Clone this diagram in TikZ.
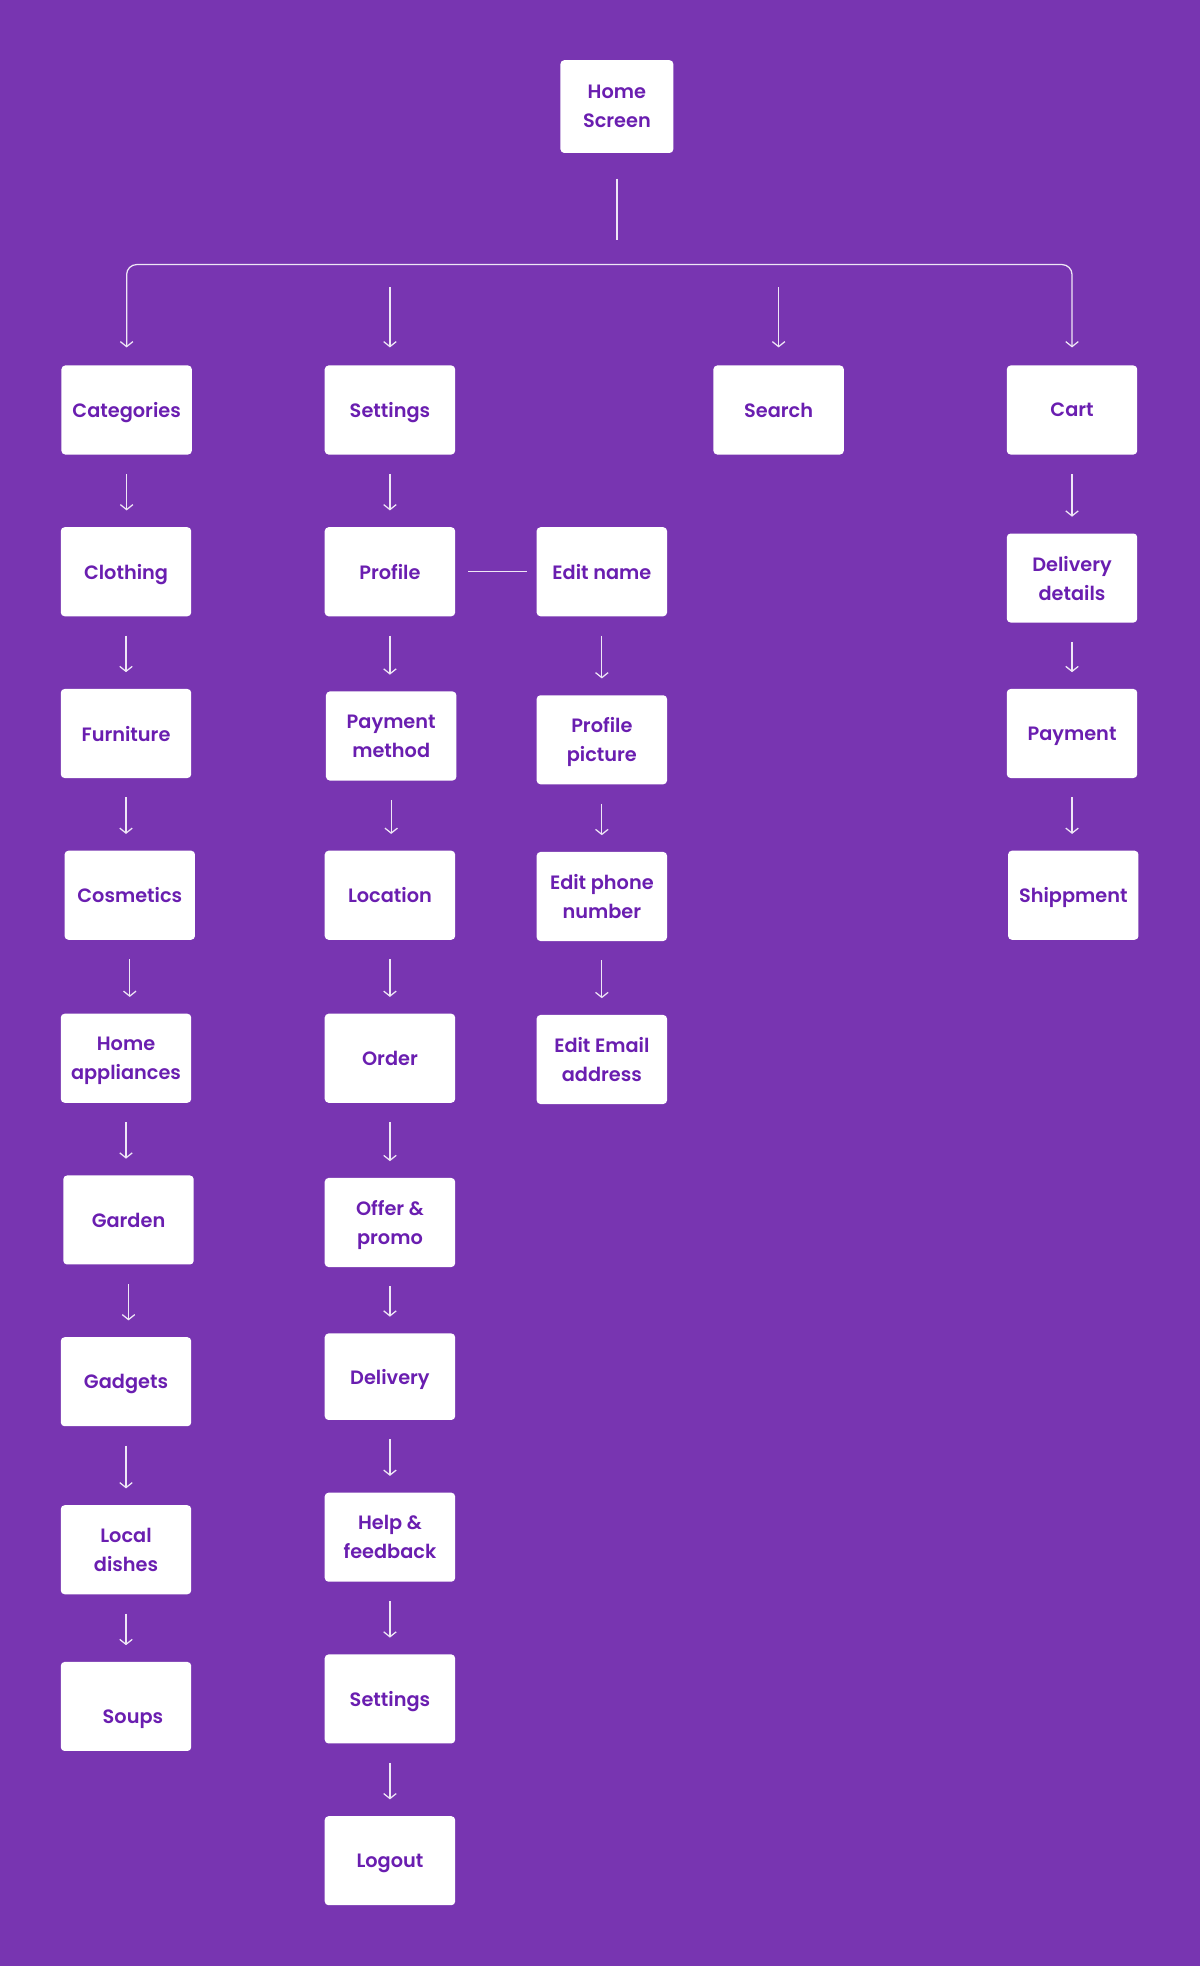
\documentclass[tikz,border=0pt]{standalone}
\usepackage{fontspec}
\setmainfont{Poppins}[BoldFont={* SemiBold}]
\usetikzlibrary{arrows.meta}
\definecolor{bgpurple}{HTML}{7835B1}
\definecolor{txtpurple}{HTML}{6A1EB0}
\tikzset{
  scr/.style={fill=white,rounded corners=1.5pt,minimum width=52pt,minimum height=35.5pt,inner sep=1pt,align=center,text depth=0pt,text=txtpurple,font=\fontsize{7.7}{11.5}\selectfont\bfseries},
  flow/.style={draw=white!88!bgpurple,line width=0.5pt,-{Straight Barb[length=2pt,width=5pt]},shorten <=7.5pt,shorten >=6.5pt},
}

\begin{document}
\begin{tikzpicture}[x=0.5pt,y=-0.5pt]

\fill[bgpurple] (0,0) rectangle (957,1568); %背景

\node[scr,minimum width=45pt,minimum height=37pt] (home) at (492,85) {Home\\Screen};

\node[scr] (cat) at (101,327) {Categories};
\node[scr] (set) at (311,327) {Settings};
\node[scr] (srch) at (621,327) {Search};
\node[scr] (cart) at (855,327) {Cart};

%Categories
\node[scr] (clo) at (100.5,456) {Clothing};
\node[scr] (fur) at (100.5,585) {Furniture};
\node[scr] (cos) at (103.5,714) {Cosmetics};
\node[scr] (appl) at (100.5,844) {Home\\appliances};
\node[scr] (gard) at (102.5,973) {Garden};
\node[scr] (gadg) at (100.5,1102) {Gadgets};
\node[scr] (local) at (100.5,1236) {Local\\dishes};
\node[scr,label={[xshift=2.75pt,yshift=-5pt,text=txtpurple,font=\fontsize{7.7}{11.5}\selectfont\bfseries]center:Soups}] (soup) at (100.5,1361) {};

%Settings
\node[scr] (prof) at (311,456) {Profile};
\node[scr] (pay) at (312,587) {Payment\\method};
\node[scr] (loc) at (311,714) {Location};
\node[scr] (ord) at (311,844) {Order};
\node[scr] (offer) at (311,975) {Offer \&\\promo};
\node[scr,minimum height=34.5pt] (deliv) at (311,1098) {Delivery};
\node[scr] (help) at (311,1226) {Help \&\\feedback};
\node[scr] (set2) at (311,1355) {Settings};
\node[scr] (out) at (311,1484) {Logout};

%Profile
\node[scr] (ename) at (480,456) {Edit name};
\node[scr] (pic) at (480,590) {Profile\\picture};
\node[scr] (phone) at (480,715) {Edit phone\\number};
\node[scr] (mail) at (480,845) {Edit Email\\address};

%Cart
\node[scr] (ddet) at (855,461) {Delivery\\details};
\node[scr] (cpay) at (855,585) {Payment};
\node[scr] (ship) at (856,714) {Shippment};

\coordinate (bus) at (491,211);
\draw[flow,-,shorten <=0pt,shorten >=0pt] ([yshift=-10pt]home.south) -- ++(0,49);
\draw[flow,{Straight Barb[length=2pt,width=5pt]}-{Straight Barb[length=2pt,width=5pt]},shorten <=0pt,shorten >=0pt,rounded corners=4pt]
  ([yshift=7pt]cat.north) |- (bus) -| ([yshift=7pt]cart.north);
\draw[flow,shorten <=0pt,shorten >=0pt] ([yshift=31pt]set.north) -- ([yshift=7pt]set.north);
\draw[flow,shorten <=0pt,shorten >=0pt] ([yshift=31pt]srch.north) -- ([yshift=7pt]srch.north);

\draw[flow] (cat.south) -- (cat.south |- clo.north);
\draw[flow] (clo.south) -- (clo.south |- fur.north);
\draw[flow] (fur.south) -- (fur.south |- cos.north);
\draw[flow] (cos.south) -- (cos.south |- appl.north);
\draw[flow] (appl.south) -- (appl.south |- gard.north);
\draw[flow] (gard.south) -- (gard.south |- gadg.north);
\draw[flow] (gadg.south) -- (gadg.south |- local.north);
\draw[flow] (local.south) -- (local.south |- soup.north);

\draw[flow] (set.south) -- (set.south |- prof.north);
\draw[flow] (prof.south) -- (prof.south |- pay.north);
\draw[flow] (pay.south) -- (pay.south |- loc.north);
\draw[flow] (loc.south) -- (loc.south |- ord.north);
\draw[flow] (ord.south) -- (ord.south |- offer.north);
\draw[flow] (offer.south) -- (offer.south |- deliv.north);
\draw[flow] (deliv.south) -- (deliv.south |- help.north);
\draw[flow] (help.south) -- (help.south |- set2.north);
\draw[flow] (set2.south) -- (set2.south |- out.north);

\draw[flow,-,shorten <=5pt,shorten >=3.5pt] (prof.east) -- (ename.west);
\draw[flow] (ename.south) -- (ename.south |- pic.north);
\draw[flow] (pic.south) -- (pic.south |- phone.north);
\draw[flow] (phone.south) -- (phone.south |- mail.north);

\draw[flow] (cart.south) -- (cart.south |- ddet.north);
\draw[flow] (ddet.south) -- (ddet.south |- cpay.north);
\draw[flow] (cpay.south) -- (cpay.south |- ship.north);

\end{tikzpicture}
\end{document}
